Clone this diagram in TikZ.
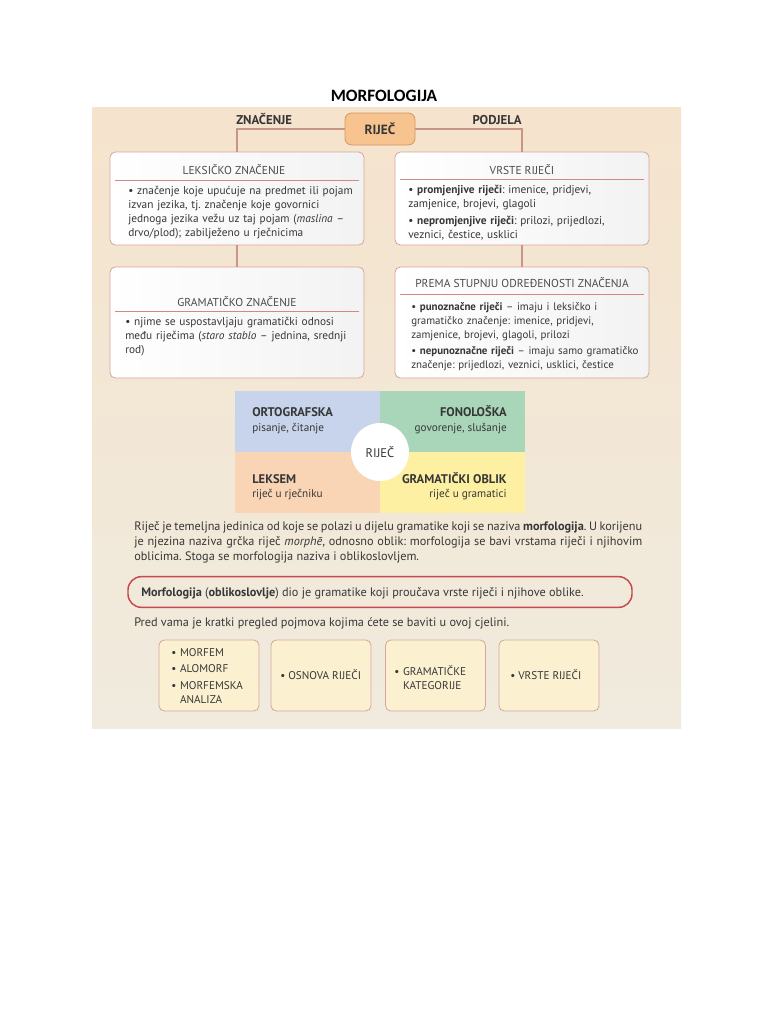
\documentclass[tikz,border=0pt]{standalone}
\usepackage{fontspec}
\setmainfont{PT Sans}
\newfontfamily\naslovfont{Carlito}
\usetikzlibrary{positioning}

\definecolor{bojaPozadinaGore}{RGB}{245,227,205}
\definecolor{bojaPozadinaDolje}{RGB}{240,235,222}
\definecolor{bojaOkvir}{RGB}{214,166,158}
\definecolor{bojaCrta}{RGB}{208,138,134}
\definecolor{bojaVeza}{RGB}{200,150,132}
\definecolor{bojaRijecIspuna}{RGB}{247,195,143}
\definecolor{bojaRijecRub}{RGB}{214,150,92}
\definecolor{bojaPlava}{RGB}{199,212,235}
\definecolor{bojaZelena}{RGB}{169,214,184}
\definecolor{bojaBreskva}{RGB}{249,213,181}
\definecolor{bojaZuta}{RGB}{253,240,163}
\definecolor{bojaCrvena}{RGB}{201,71,79}
\definecolor{bojaKutija}{RGB}{251,241,208}
\definecolor{bojaTekst}{RGB}{55,55,55}
\definecolor{bojaNaslov}{RGB}{75,75,75}

\tikzset{
  kartica/.style={draw=bojaOkvir, line width=0.6pt, rounded corners=4pt, left color=white, right color=gray!10, minimum width=190.5pt, inner sep=0pt},
  veza/.style={draw=bojaVeza, line width=0.9pt},
  oznaka/.style={font=\bfseries\fontsize{9.6}{11}\selectfont, text=bojaTekst, inner sep=0pt},
  naslov/.style={font=\fontsize{8.6}{10}\selectfont, text=bojaNaslov, inner sep=0pt, anchor=base},
  podcrta/.style={draw=bojaCrta, line width=0.6pt},
  tekst/.style={font=\frenchspacing\fontsize{8.5}{10.5}\selectfont, text=bojaTekst, align=left, text width=200pt, inner sep=0pt, anchor=north west},
  kvadrant/.style={font=\bfseries\fontsize{9.4}{11}\selectfont, text=bojaTekst, inner sep=0pt},
  opis/.style={font=\fontsize{8.4}{10}\selectfont, text=bojaTekst, inner sep=0pt},
  odlomak/.style={font=\frenchspacing\fontsize{9.2}{11}\selectfont, text=bojaTekst, inner sep=0pt, anchor=base west},
  pojam/.style={draw=bojaOkvir, line width=0.6pt, rounded corners=4pt, fill=bojaKutija, minimum width=75pt, minimum height=53.25pt, inner sep=0pt},
  pojamTekst/.style={font=\fontsize{8.4}{10.5}\selectfont, text=bojaTekst, align=left, text width=72pt, inner sep=0pt, anchor=north west},
}

\begin{document}
\begin{tikzpicture}[x=0.75pt,y=0.75pt,yscale=-1,xscale=1]
\useasboundingbox (0,0) rectangle (768,1024);

% Text Node
\node[font=\naslovfont\bfseries\fontsize{13}{15}\selectfont, anchor=base, inner sep=0pt] (naslov) at (384,102) {MORFOLOGIJA};

%Shape: Rectangle
\fill[top color=bojaPozadinaGore, bottom color=bojaPozadinaDolje] (92,107) rectangle (681,728);

%Shape: Rounded Rect
\node[draw=bojaRijecRub, fill=bojaRijecIspuna, rounded corners=5pt, line width=0.6pt, minimum width=52.5pt, minimum height=24pt, font=\bfseries\fontsize{10}{11}\selectfont, text=bojaTekst] (rijec) at (380,129) {RIJEČ};

%Shape: Rounded Rect
\node[kartica, minimum height=69.75pt] (leks) at (237,198.5) {};
\node[kartica, minimum height=69.75pt] (vrste) at (522,198.5) {};
\node[kartica, minimum height=83.25pt] (gram) at (237,322.5) {};
\node[kartica, minimum height=83.25pt] (stupanj) at (522,322.5) {};

% connectors
\draw[veza] (rijec.west) -| (leks.north);
\draw[veza] (rijec.east) -| (vrste.north);
\draw[veza] (leks.south) -- (gram.north);
\draw[veza] (vrste.south) -- (stupanj.north);

% Text Node
\node[oznaka, anchor=base west] (znacenje) at (236,124) {ZNAČENJE};
% Text Node
\node[oznaka, anchor=base east] (podjela) at (522,124) {PODJELA};

% Text Node
\node[naslov] (leksNaslov) at (234,174) {LEKSIČKO ZNAČENJE};
\draw[podcrta] (115,180) -- (359,180);
\node[tekst] (leksTekst) at (128,186) {• značenje koje upućuje na predmet ili pojam\\izvan jezika, tj. značenje koje govornici\\jednoga jezika vežu uz taj pojam (\textit{maslina} –\\drvo/plod); zabilježeno u rječnicima};

% Text Node
\node[naslov] (vrsteNaslov) at (522,174) {VRSTE RIJEČI};
\draw[podcrta] (400,179) -- (644,179);
\node[tekst] (vrsteTekst) at (408,185) {• \textbf{promjenjive riječi}: imenice, pridjevi,\\zamjenice, brojevi, glagoli\\[2pt]• \textbf{nepromjenjive riječi}: prilozi, prijedlozi,\\veznici, čestice, usklici};

% Text Node
\node[naslov] (gramNaslov) at (237,306) {GRAMATIČKO ZNAČENJE};
\draw[podcrta] (115,311) -- (359,311);
\node[tekst] (gramTekst) at (125,317) {• njime se uspostavljaju gramatički odnosi\\među riječima (\textit{staro stablo} – jednina, srednji\\rod)};

% Text Node
\node[naslov] (stupanjNaslov) at (522,287) {PREMA STUPNJU ODREĐENOSTI ZNAČENJA};
\draw[podcrta] (400,294) -- (644,294);
\node[tekst, font=\frenchspacing\fontsize{8.2}{10.5}\selectfont] (stupanjTekst) at (411,302) {• \textbf{punoznačne riječi} – imaju i leksičko i\\gramatičko značenje: imenice, pridjevi,\\zamjenice, brojevi, glagoli, prilozi\\[2pt]• \textbf{nepunoznačne riječi} – imaju samo gramatičko\\značenje: prijedlozi, veznici, usklici, čestice};

%Shape: Rectangle
\fill[bojaPlava] (235,391) rectangle (380,452);
\fill[bojaZelena] (380,391) rectangle (525,452);
\fill[bojaBreskva] (235,452) rectangle (380,513);
\fill[bojaZuta] (380,452) rectangle (525,513);
%Shape: Circle
\node[circle, fill=white, minimum size=43.5pt, inner sep=0pt, font=\fontsize{9.4}{10}\selectfont, text=bojaTekst] (srediste) at (380,452) {RIJEČ};

% Text Node
\node[kvadrant, anchor=base west] (ortografska) at (252,416) {ORTOGRAFSKA};
\node[opis, anchor=base west] (pisanje) at (252,431) {pisanje, čitanje};
\node[kvadrant, anchor=base east] (fonoloska) at (507,416) {FONOLOŠKA};
\node[opis, anchor=base east] (govorenje) at (507,431) {govorenje, slušanje};
\node[kvadrant, anchor=base west] (leksem) at (252,483) {LEKSEM};
\node[opis, anchor=base west] (rjecnik) at (252,497) {riječ u rječniku};
\node[kvadrant, anchor=base east] (oblik) at (507,483) {GRAMATIČKI OBLIK};
\node[opis, anchor=base east] (gramatika) at (507,497) {riječ u gramatici};

% Text Node
\node[odlomak] (red1) at (134,530) {\makebox[381pt][s]{Riječ je temeljna jedinica od koje se polazi u dijelu gramatike koji se naziva \textbf{morfologija}. U korijenu}};
\node[odlomak] (red2) at (134,545) {\makebox[381pt][s]{je njezina naziva grčka riječ \textit{morphē}, odnosno oblik: morfologija se bavi vrstama riječi i njihovim}};
\node[odlomak] (red3) at (134,560) {oblicima. Stoga se morfologija naziva i oblikoslovljem.};

%Shape: Rounded Rect
\node[draw=bojaCrvena, line width=1.1pt, rounded corners=10pt, minimum width=378pt, minimum height=23pt, inner sep=0pt] (definicija) at (380,592) {};
\node[odlomak] (definicijaTekst) at (141,596) {\textbf{Morfologija} (\textbf{oblikoslovlje}) dio je gramatike koji proučava vrste riječi i njihove oblike.};

% Text Node
\node[odlomak] (pregled) at (134,626) {Pred vama je kratki pregled pojmova kojima ćete se baviti u ovoj cjelini.};

%Shape: Rounded Rect
\node[pojam] (morfem) at (209,675.5) {};
\node[pojam] (osnova) at (321,675.5) {};
\node[pojam] (kategorije) at (435.5,675.5) {};
\node[pojam] (vrsteRijeci) at (549,675.5) {};

% Text Node
\node[pojamTekst] (morfemTekst) at (171,648) {• MORFEM\\[2pt]• ALOMORF\\[2pt]• MORFEMSKA\\\phantom{• }ANALIZA};
\node[odlomak, font=\fontsize{8.4}{10.5}\selectfont] (osnovaTekst) at (280,679.5) {• OSNOVA RIJEČI};
\node[pojamTekst] (kategorijeTekst) at (394,665.5) {• GRAMATIČKE\\\phantom{• }KATEGORIJE};
\node[odlomak, font=\fontsize{8.4}{10.5}\selectfont] (vrsteRijeciTekst) at (510,679.5) {• VRSTE RIJEČI};
\end{tikzpicture}
\end{document}
